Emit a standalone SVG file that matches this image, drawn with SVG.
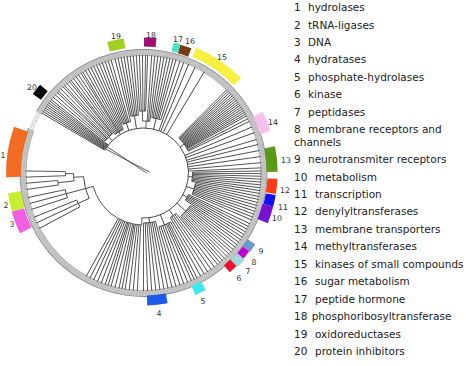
<svg xmlns="http://www.w3.org/2000/svg" width="474" height="366" viewBox="0 0 474 366">
<style>
.t{font-family:"DejaVu Sans",sans-serif;font-size:10.5px;fill:#222}
.n{font-family:"DejaVu Sans",sans-serif;font-size:7.8px;fill:#333;text-anchor:middle}
.br line,.br path{stroke:#333;stroke-width:0.8;fill:none}
.br circle{fill:none;stroke:#333;stroke-width:0.8}
.bx circle{fill:none}
</style>
<rect width="474" height="366" fill="#fff"/>
<g id="tree" transform="translate(143.5,173)">
<g id="ring">
<circle r="120.5" fill="none" stroke="#cfcfcf" stroke-width="6" stroke-dasharray="738.5 20" transform="rotate(210)"/>
<circle r="120.5" fill="none" stroke="#a6a6a6" stroke-width="5" stroke-dasharray="0.6 0.9" opacity="0.75" transform="rotate(210)"/>
<circle r="123.5" fill="none" stroke="#909090" stroke-width="0.9" stroke-dasharray="757 20" transform="rotate(210)"/>
<circle r="117.5" fill="none" stroke="#a0a0a0" stroke-width="0.7" stroke-dasharray="720 20" transform="rotate(210)"/>
</g>
<g id="connectors" class="br">
<line x1="6" y1="-1" x2="-38" y2="-24"/>
<line x1="3" y1="0" x2="-36" y2="-26"/>
<circle r="45" stroke-dasharray="188.5 2000" transform="rotate(212)"/>
<circle r="52" stroke-dasharray="66.25 2000" transform="rotate(92)"/>
<line x1="45" x2="52" transform="rotate(92)"/>
<circle r="50" stroke-dasharray="10.47 2000" transform="rotate(220)"/><line x1="45" x2="50" transform="rotate(226)"/>
<circle r="48" stroke-dasharray="9.63 2000" transform="rotate(233.5)"/><line x1="45" x2="48" transform="rotate(239)"/>
<circle r="53" stroke-dasharray="8.79 2000" transform="rotate(246.5)"/><line x1="45" x2="53" transform="rotate(251)"/>
<circle r="58" stroke-dasharray="7.59 2000" transform="rotate(257.5)"/><line x1="45" x2="58" transform="rotate(261)"/>
<circle r="62" stroke-dasharray="5.95 2000" transform="rotate(266.5)"/><line x1="52" x2="62" transform="rotate(269)"/>
<circle r="52" stroke-dasharray="7.26 2000" transform="rotate(269)"/><line x1="45" x2="52" transform="rotate(273)"/>
<circle r="56" stroke-dasharray="9.29 2000" transform="rotate(278.5)"/><line x1="45" x2="56" transform="rotate(283)"/>
<circle r="50" stroke-dasharray="16.58 2000" transform="rotate(315)"/><line x1="45" x2="50" transform="rotate(324.5)"/>
<circle r="49" stroke-dasharray="9.41 2000" transform="rotate(359)"/><line x1="45" x2="49" transform="rotate(4.5)"/>
<circle r="53" stroke-dasharray="11.1 2000" transform="rotate(11.5)"/><line x1="45" x2="53" transform="rotate(17.5)"/>
<circle r="50" stroke-dasharray="6.54 2000" transform="rotate(25.5)"/><line x1="45" x2="50" transform="rotate(29)"/>
<circle r="57" stroke-dasharray="14.92 2000" transform="rotate(34.5)"/><line x1="45" x2="57" transform="rotate(42)"/>
<circle r="52" stroke-dasharray="7.26 2000" transform="rotate(51)"/><line x1="45" x2="52" transform="rotate(55)"/>
<circle r="56" stroke-dasharray="12.71 2000" transform="rotate(61)"/><line x1="45" x2="56" transform="rotate(68)"/>
<circle r="50" stroke-dasharray="12.22 2000" transform="rotate(76)"/><line x1="45" x2="50" transform="rotate(83)"/>
<circle r="72" stroke-dasharray="7.54 2000" transform="rotate(152)"/><line x1="60" x2="72" transform="rotate(155)"/>
<circle r="80" stroke-dasharray="8.38 2000" transform="rotate(162)"/><line x1="52" x2="80" transform="rotate(165)"/>
<circle r="86" stroke-dasharray="4.5 2000" transform="rotate(172)"/><line x1="70" x2="86" transform="rotate(173.5)"/>
<circle r="78" stroke-dasharray="4.08 2000" transform="rotate(178)"/><line x1="70" x2="78" transform="rotate(179.5)"/>
<circle r="70" stroke-dasharray="7.33 2000" transform="rotate(173.5)"/><line x1="60" x2="70" transform="rotate(176.5)"/>
<circle r="60" stroke-dasharray="22.51 2000" transform="rotate(155)"/>
<line x1="45" x2="118" transform="rotate(210.5)"/><line x1="45" x2="118" transform="rotate(211.5)"/><line x1="45" x2="118" transform="rotate(212.5)"/><line x1="45" x2="118" transform="rotate(213.5)"/><line x1="45" x2="118" transform="rotate(214.5)"/><line x1="45" x2="118" transform="rotate(215.5)"/><line x1="45" x2="118" transform="rotate(216.5)"/><line x1="45" x2="118" transform="rotate(217.5)"/><line x1="45" x2="118" transform="rotate(218.5)"/>
<line x1="45" x2="118" transform="rotate(290)"/><line x1="45" x2="118" transform="rotate(292.5)"/><line x1="45" x2="118" transform="rotate(296)"/><line x1="45" x2="118" transform="rotate(301)"/>
<line x1="45" x2="118" transform="rotate(337)"/><line x1="45" x2="118" transform="rotate(340)"/><line x1="45" x2="118" transform="rotate(343.5)"/><line x1="45" x2="118" transform="rotate(346)"/><line x1="45" x2="118" transform="rotate(349)"/><line x1="45" x2="118" transform="rotate(352)"/><line x1="45" x2="118" transform="rotate(355)"/><line x1="45" x2="118" transform="rotate(357.5)"/>
<line x1="50" x2="118" transform="rotate(220)"/><line x1="50" x2="118" transform="rotate(221.5)"/><line x1="50" x2="118" transform="rotate(223)"/><line x1="50" x2="118" transform="rotate(224)"/><line x1="50" x2="118" transform="rotate(225.5)"/><line x1="50" x2="118" transform="rotate(227)"/><line x1="50" x2="118" transform="rotate(228)"/><line x1="50" x2="118" transform="rotate(229.5)"/><line x1="50" x2="118" transform="rotate(231)"/><line x1="50" x2="118" transform="rotate(232)"/>
<line x1="48" x2="118" transform="rotate(233.5)"/><line x1="48" x2="118" transform="rotate(235)"/><line x1="48" x2="118" transform="rotate(236.5)"/><line x1="48" x2="118" transform="rotate(238)"/><line x1="48" x2="118" transform="rotate(239)"/><line x1="48" x2="118" transform="rotate(240.5)"/><line x1="48" x2="118" transform="rotate(242)"/><line x1="48" x2="118" transform="rotate(243.5)"/><line x1="48" x2="118" transform="rotate(245)"/>
<line x1="53" x2="118" transform="rotate(246.5)"/><line x1="53" x2="118" transform="rotate(248)"/><line x1="53" x2="118" transform="rotate(249.5)"/><line x1="53" x2="118" transform="rotate(251)"/><line x1="53" x2="118" transform="rotate(252.5)"/><line x1="53" x2="118" transform="rotate(254)"/><line x1="53" x2="118" transform="rotate(256)"/>
<line x1="58" x2="118" transform="rotate(257.5)"/><line x1="58" x2="118" transform="rotate(259)"/><line x1="58" x2="118" transform="rotate(260.5)"/><line x1="58" x2="118" transform="rotate(262)"/><line x1="58" x2="118" transform="rotate(263.5)"/><line x1="58" x2="118" transform="rotate(265)"/>
<line x1="62" x2="118" transform="rotate(266.5)"/><line x1="62" x2="118" transform="rotate(268)"/><line x1="62" x2="118" transform="rotate(269.5)"/><line x1="62" x2="118" transform="rotate(271)"/><line x1="62" x2="118" transform="rotate(272)"/>
<line x1="52" x2="118" transform="rotate(274)"/><line x1="52" x2="118" transform="rotate(275.5)"/><line x1="52" x2="118" transform="rotate(277)"/>
<line x1="56" x2="118" transform="rotate(278.5)"/><line x1="56" x2="118" transform="rotate(280)"/><line x1="56" x2="118" transform="rotate(281.5)"/><line x1="56" x2="118" transform="rotate(283)"/><line x1="56" x2="118" transform="rotate(284.5)"/><line x1="56" x2="118" transform="rotate(286)"/><line x1="56" x2="118" transform="rotate(288)"/>
<line x1="50" x2="118" transform="rotate(315)"/><line x1="50" x2="118" transform="rotate(316)"/><line x1="50" x2="118" transform="rotate(317)"/><line x1="50" x2="118" transform="rotate(318)"/><line x1="50" x2="118" transform="rotate(319)"/><line x1="50" x2="118" transform="rotate(320)"/><line x1="50" x2="118" transform="rotate(321)"/><line x1="50" x2="118" transform="rotate(322)"/><line x1="50" x2="118" transform="rotate(323)"/><line x1="50" x2="118" transform="rotate(324)"/><line x1="50" x2="118" transform="rotate(325)"/><line x1="50" x2="118" transform="rotate(326)"/><line x1="50" x2="118" transform="rotate(327)"/><line x1="50" x2="118" transform="rotate(328)"/><line x1="50" x2="118" transform="rotate(329)"/><line x1="50" x2="118" transform="rotate(330)"/><line x1="50" x2="118" transform="rotate(331)"/><line x1="50" x2="118" transform="rotate(332.5)"/><line x1="50" x2="118" transform="rotate(334)"/>
<line x1="49" x2="118" transform="rotate(359)"/><line x1="49" x2="118" transform="rotate(0.3)"/><line x1="49" x2="118" transform="rotate(1.6)"/><line x1="49" x2="118" transform="rotate(3)"/><line x1="49" x2="118" transform="rotate(4.4)"/><line x1="49" x2="118" transform="rotate(5.8)"/><line x1="49" x2="118" transform="rotate(7.2)"/><line x1="49" x2="118" transform="rotate(8.6)"/><line x1="49" x2="118" transform="rotate(10)"/>
<line x1="53" x2="118" transform="rotate(11.5)"/><line x1="53" x2="118" transform="rotate(13)"/><line x1="53" x2="118" transform="rotate(14.5)"/><line x1="53" x2="118" transform="rotate(16)"/><line x1="53" x2="118" transform="rotate(17.5)"/><line x1="53" x2="118" transform="rotate(19)"/><line x1="53" x2="118" transform="rotate(20.5)"/><line x1="53" x2="118" transform="rotate(22)"/><line x1="53" x2="118" transform="rotate(23.5)"/>
<line x1="50" x2="118" transform="rotate(25.5)"/><line x1="50" x2="118" transform="rotate(27)"/><line x1="50" x2="118" transform="rotate(28.5)"/><line x1="50" x2="118" transform="rotate(30)"/><line x1="50" x2="118" transform="rotate(31.5)"/><line x1="50" x2="118" transform="rotate(33)"/>
<line x1="57" x2="118" transform="rotate(34.5)"/><line x1="57" x2="118" transform="rotate(36)"/><line x1="57" x2="118" transform="rotate(37.5)"/><line x1="57" x2="118" transform="rotate(39)"/><line x1="57" x2="118" transform="rotate(40.5)"/><line x1="57" x2="118" transform="rotate(42)"/><line x1="57" x2="118" transform="rotate(43.5)"/><line x1="57" x2="118" transform="rotate(45)"/><line x1="57" x2="118" transform="rotate(46.5)"/><line x1="57" x2="118" transform="rotate(48)"/><line x1="57" x2="118" transform="rotate(49.5)"/>
<line x1="52" x2="118" transform="rotate(51)"/><line x1="52" x2="118" transform="rotate(53)"/><line x1="52" x2="118" transform="rotate(55)"/><line x1="52" x2="118" transform="rotate(57)"/><line x1="52" x2="118" transform="rotate(59)"/>
<line x1="56" x2="118" transform="rotate(61)"/><line x1="56" x2="118" transform="rotate(63)"/><line x1="56" x2="118" transform="rotate(64.5)"/><line x1="56" x2="118" transform="rotate(66)"/><line x1="56" x2="118" transform="rotate(68)"/><line x1="56" x2="118" transform="rotate(70)"/><line x1="56" x2="118" transform="rotate(72)"/><line x1="56" x2="118" transform="rotate(74)"/>
<line x1="50" x2="118" transform="rotate(76)"/><line x1="50" x2="118" transform="rotate(78)"/><line x1="50" x2="118" transform="rotate(80)"/><line x1="50" x2="118" transform="rotate(82)"/><line x1="50" x2="118" transform="rotate(84)"/><line x1="50" x2="118" transform="rotate(86)"/><line x1="50" x2="118" transform="rotate(88)"/><line x1="50" x2="118" transform="rotate(90)"/>
<line x1="52" x2="118" transform="rotate(93)"/><line x1="52" x2="118" transform="rotate(95)"/><line x1="52" x2="118" transform="rotate(97)"/><line x1="52" x2="118" transform="rotate(99)"/><line x1="52" x2="118" transform="rotate(100.5)"/><line x1="52" x2="118" transform="rotate(102)"/><line x1="52" x2="118" transform="rotate(104)"/><line x1="52" x2="118" transform="rotate(106)"/><line x1="52" x2="118" transform="rotate(107.5)"/><line x1="52" x2="118" transform="rotate(109)"/><line x1="52" x2="118" transform="rotate(111)"/><line x1="52" x2="118" transform="rotate(113)"/><line x1="52" x2="118" transform="rotate(115)"/><line x1="52" x2="118" transform="rotate(117)"/><line x1="52" x2="118" transform="rotate(119)"/>
<line x1="72" x2="118" transform="rotate(152)"/><line x1="72" x2="118" transform="rotate(155)"/><line x1="72" x2="118" transform="rotate(158)"/>
<line x1="80" x2="118" transform="rotate(162)"/><line x1="80" x2="118" transform="rotate(165)"/><line x1="80" x2="118" transform="rotate(168)"/>
<line x1="86" x2="118" transform="rotate(172)"/><line x1="86" x2="118" transform="rotate(175)"/>
<line x1="78" x2="118" transform="rotate(178)"/><line x1="78" x2="118" transform="rotate(181)"/>
</g>
</g>
<g id="boxes" class="bx" transform="translate(143.5,173)">
<g id="c1"><circle r="130" stroke="#f26b22" stroke-width="15" stroke-dasharray="48.78 2000" transform="rotate(178.2)"/></g>
<g id="c2"><circle r="130.5" stroke="#c8ee30" stroke-width="13" stroke-dasharray="17.99 2000" transform="rotate(163.6)"/></g>
<g id="c3"><circle r="131" stroke="#f060e0" stroke-width="13" stroke-dasharray="21.95 2000" transform="rotate(154)"/></g>
<g id="c4"><circle r="127.5" stroke="#1a5ce8" stroke-width="10" stroke-dasharray="19.8 2000" transform="rotate(79.5)"/></g>
<g id="c5"><circle r="127.5" stroke="#40e8f0" stroke-width="10" stroke-dasharray="11.13 2000" transform="rotate(62)"/></g>
<g id="c7"><circle r="128" stroke="#a0d8dc" stroke-width="10" stroke-dasharray="10.05 2000" transform="rotate(40.5)"/></g>
<g id="c6"><circle r="127" stroke="#f01030" stroke-width="9" stroke-dasharray="8.94 2000" transform="rotate(45)"/></g>
<g id="c9"><circle r="128" stroke="#6898d0" stroke-width="9" stroke-dasharray="8.94 2000" transform="rotate(32.5)"/></g>
<g id="c8"><circle r="127.5" stroke="#c000d0" stroke-width="8" stroke-dasharray="8.9 2000" transform="rotate(36.5)"/></g>
<g id="c10"><circle r="128.5" stroke="#7a10d0" stroke-width="11" stroke-dasharray="16.82 2000" transform="rotate(14.5)"/></g>
<g id="c11"><circle r="129" stroke="#1010f0" stroke-width="10" stroke-dasharray="11.26 2000" transform="rotate(9.5)"/></g>
<g id="c12"><circle r="129" stroke="#ff3a10" stroke-width="10" stroke-dasharray="14.63 2000" transform="rotate(2.5)"/></g>
<g id="c13"><circle r="128.7" stroke="#5a9a18" stroke-width="11" stroke-dasharray="24.71 2000" transform="rotate(-11.5)"/></g>
<g id="c14"><circle r="128.5" stroke="#f5c0f0" stroke-width="11" stroke-dasharray="19.74 2000" transform="rotate(-27.2)"/></g>
<g id="c15"><circle r="131" stroke="#f8f040" stroke-width="10" stroke-dasharray="52.59 2000" transform="rotate(-67.2)"/></g>
<g id="c16"><circle r="129" stroke="#7a3a10" stroke-width="9" stroke-dasharray="11.26 2000" transform="rotate(-74)"/></g>
<g id="c17"><circle r="129.5" stroke="#40e8c8" stroke-width="9" stroke-dasharray="6.78 2000" transform="rotate(-77)"/></g>
<g id="c18"><circle r="131" stroke="#a01070" stroke-width="9" stroke-dasharray="12.12 2000" transform="rotate(-89.8)"/></g>
<g id="c19"><circle r="131" stroke="#a0d020" stroke-width="10" stroke-dasharray="16.46 2000" transform="rotate(-105.5)"/></g>
<g id="c20"><circle r="131" stroke="#000" stroke-width="10" stroke-dasharray="11.43 2000" transform="rotate(215.5)"/></g>
</g>
<g id="labels">
<text class="n" x="3" y="158">1</text>
<text class="n" x="6" y="208">2</text>
<text class="n" x="12" y="227">3</text>
<text class="n" x="159" y="316">4</text>
<text class="n" x="203" y="304">5</text>
<text class="n" x="239" y="281">6</text>
<text class="n" x="248" y="274">7</text>
<text class="n" x="254" y="265">8</text>
<text class="n" x="261" y="254">9</text>
<text class="n" x="277" y="221">10</text>
<text class="n" x="283" y="210">11</text>
<text class="n" x="285" y="193">12</text>
<text class="n" x="286" y="163">13</text>
<text class="n" x="273" y="125">14</text>
<text class="n" x="222" y="60">15</text>
<text class="n" x="190" y="44">16</text>
<text class="n" x="178" y="42">17</text>
<text class="n" x="151" y="38">18</text>
<text class="n" x="116" y="39">19</text>
<text class="n" x="32" y="90">20</text>
</g>
<g id="legend">
<text class="t" x="294" y="11">1<tspan x="308">hydrolases</tspan></text>
<text class="t" x="294" y="28.5">2<tspan x="308">tRNA-ligases</tspan></text>
<text class="t" x="294" y="46">3<tspan x="308">DNA</tspan></text>
<text class="t" x="294" y="63.4">4<tspan x="308">hydratases</tspan></text>
<text class="t" x="294" y="80.8">5<tspan x="308">phosphate-hydrolases</tspan></text>
<text class="t" x="294" y="98.3">6<tspan x="308">kinase</tspan></text>
<text class="t" x="294" y="115.7">7<tspan x="308">peptidases</tspan></text>
<text class="t" x="294" y="133.2">8<tspan x="308">membrane receptors and</tspan></text>
<text class="t" x="294" y="145.5">channels</text>
<text class="t" x="294" y="163">9<tspan x="308">neurotransmiter receptors</tspan></text>
<text class="t" x="294" y="180.5">10<tspan x="315">metabolism</tspan></text>
<text class="t" x="294" y="197.9">11<tspan x="315">transcription</tspan></text>
<text class="t" x="294" y="215.4">12<tspan x="315">denylyltransferases</tspan></text>
<text class="t" x="294" y="232.8">13<tspan x="315">membrane transporters</tspan></text>
<text class="t" x="294" y="250.3">14<tspan x="315">methyltransferases</tspan></text>
<text class="t" x="294" y="267.7">15<tspan x="315">kinases of small compounds</tspan></text>
<text class="t" x="294" y="285.2">16<tspan x="315">sugar metabolism</tspan></text>
<text class="t" x="294" y="302.6">17<tspan x="315">peptide hormone</tspan></text>
<text class="t" x="294" y="320.1">18<tspan x="311.7">phosphoribosyltransferase</tspan></text>
<text class="t" x="294" y="337.5">19<tspan x="315">oxidoreductases</tspan></text>
<text class="t" x="294" y="355">20<tspan x="315">protein inhibitors</tspan></text>
</g>
</svg>
